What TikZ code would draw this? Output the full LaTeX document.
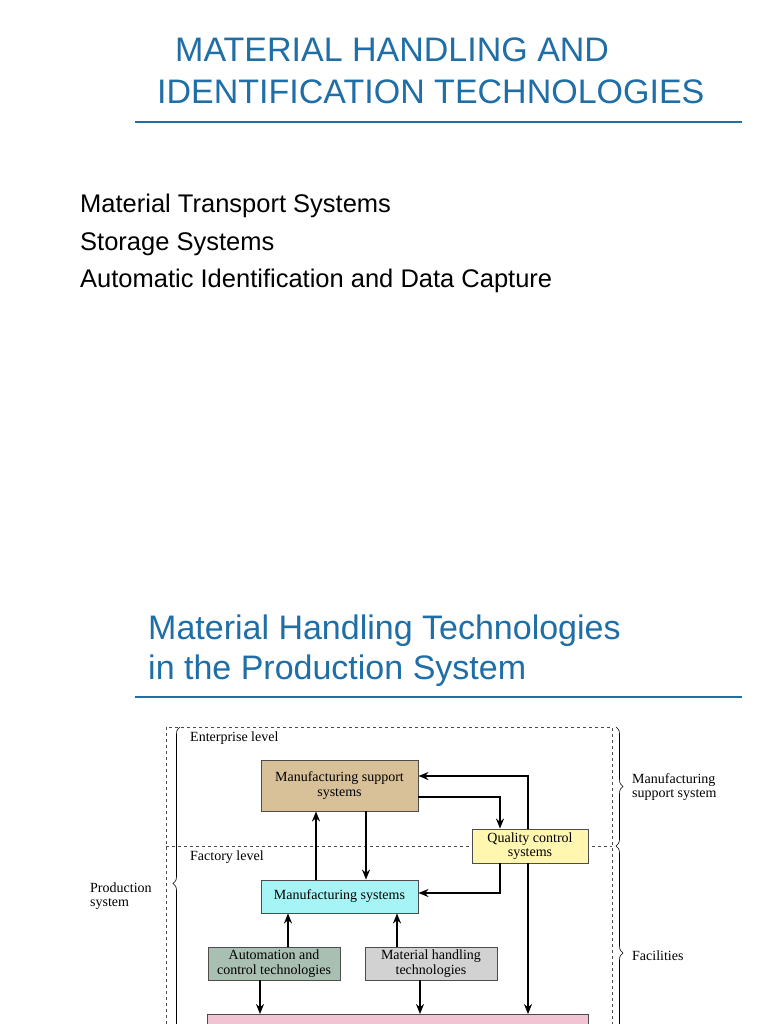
\documentclass[tikz,border=0pt]{standalone}
\usepackage{fontspec}
\setmainfont{Liberation Serif}
\newfontfamily\hsans{Liberation Sans}
\usetikzlibrary{arrows.meta,decorations.pathreplacing}
\definecolor{ttl}{HTML}{1F6EA6}
\definecolor{tan}{HTML}{D8C198}
\definecolor{qcy}{HTML}{FFF6B0}
\definecolor{cyn}{HTML}{A6F4F6}
\definecolor{grn}{HTML}{A8BFB2}
\definecolor{gry}{HTML}{D2D2D2}
\definecolor{pnk}{HTML}{F0C4D2}
\begin{document}
\begin{tikzpicture}[x=1pt,y=-1pt,
  bx/.style={draw=black!70,line width=0.9pt,inner sep=0pt,align=center,font=\fontsize{14}{14.5}\selectfont},
  lbl/.style={font=\fontsize{14}{14.5}\selectfont,align=left,inner sep=0pt},
  thk/.style={line width=2.4pt,-{Stealth[length=10pt,width=8pt]}},
  thn/.style={line width=1.7pt,-{Stealth[length=10pt,width=8pt]}},
  br/.style={decorate,decoration={brace,amplitude=7pt},line width=0.6pt}]
\useasboundingbox (0,0) rectangle (768,1024);
\fill[white] (0,0) rectangle (768,1024);
% titles
\node[anchor=base west,inner sep=0,text=ttl,font=\hsans\fontsize{34}{36}\selectfont] (t1) at (175,62) {MATERIAL HANDLING AND};
\node[anchor=base west,inner sep=0,text=ttl,font=\hsans\fontsize{34}{36}\selectfont] (t2) at (157,104) {IDENTIFICATION TECHNOLOGIES};
\draw[ttl,line width=2pt] (135,122) -- (742,122);
\node[anchor=base west,inner sep=0,font=\hsans\fontsize{25.5}{27}\selectfont] (b1) at (80,213) {Material Transport Systems};
\node[anchor=base west,inner sep=0,font=\hsans\fontsize{25.5}{27}\selectfont] (b2) at (80,250) {Storage Systems};
\node[anchor=base west,inner sep=0,font=\hsans\fontsize{25.5}{27}\selectfont] (b3) at (80,287) {Automatic Identification and Data Capture};
\node[anchor=base west,inner sep=0,text=ttl,font=\hsans\fontsize{34}{36}\selectfont] (t3) at (148,639) {Material Handling Technologies};
\node[anchor=base west,inner sep=0,text=ttl,font=\hsans\fontsize{34}{36}\selectfont] (t4) at (148,679) {in the Production System};
\draw[ttl,line width=2pt] (135,697) -- (742,697);
% dashed frame
\draw[dashed,black!70,line width=0.7pt] (166,1030) -- (166,727) -- (612,727) -- (612,1030);
\draw[dashed,black!70,line width=1pt] (166,846) -- (612,846);
\node[lbl,anchor=north west] (el) at (190,732) {Enterprise level};
\node[lbl,anchor=north west] (fl) at (190,851) {Factory level};
% boxes
\node[bx,fill=tan,minimum width=157pt,minimum height=51pt] (mss) at (339.5,785.5) {Manufacturing support\\systems};
\node[bx,fill=cyn,minimum width=157pt,minimum height=33pt] (ms) at (339.5,896.5) {Manufacturing systems};
\node[bx,fill=qcy,minimum width=116pt,minimum height=34pt] (qc) at (530,846) {Quality control\\systems};
\node[bx,fill=grn,minimum width=132pt,minimum height=33pt] (ac) at (274,963.5) {Automation and\\control technologies};
\node[bx,fill=gry,minimum width=132pt,minimum height=33pt] (mh) at (431,963.5) {Material handling\\technologies};
\node[bx,fill=pnk,minimum width=381pt,minimum height=30pt,anchor=north west] (fac) at (207,1014) {};
% arrows
\draw[thk] (ms.north -| 316,0) -- (mss.south -| 316,0);
\draw[thn] (mss.south -| 366,0) -- (ms.north -| 366,0);
\draw[thn] (mss.east |- 0,797) -| (qc.north -| 500,0);
\draw[thk] (qc.north -| 528,0) |- (mss.east |- 0,776);
\draw[thk] (qc.south -| 528,0) -- (fac.north -| 528,0);
\draw[thn] (qc.south -| 500,0) |- (ms.east |- 0,893);
\draw[thn] (ac.north -| 288,0) -- (ms.south -| 288,0);
\draw[thn] (mh.north -| 397,0) -- (ms.south -| 397,0);
\draw[thn] (ac.south -| 260,0) -- (fac.north -| 260,0);
\draw[thk] (mh.south -| 420,0) -- (fac.north -| 420,0);
% braces
\draw[br] (180,1040) -- (180,727);
\node[lbl,anchor=west] (ps) at (90,896) {Production\\system};
\draw[br] (616,727) -- (616,846);
\node[lbl,anchor=west] (msl) at (632,787) {Manufacturing\\support system};
\draw[br] (616,846) -- (616,1060);
\node[lbl,anchor=west] (fa) at (632,956) {Facilities};
\end{tikzpicture}
\end{document}
